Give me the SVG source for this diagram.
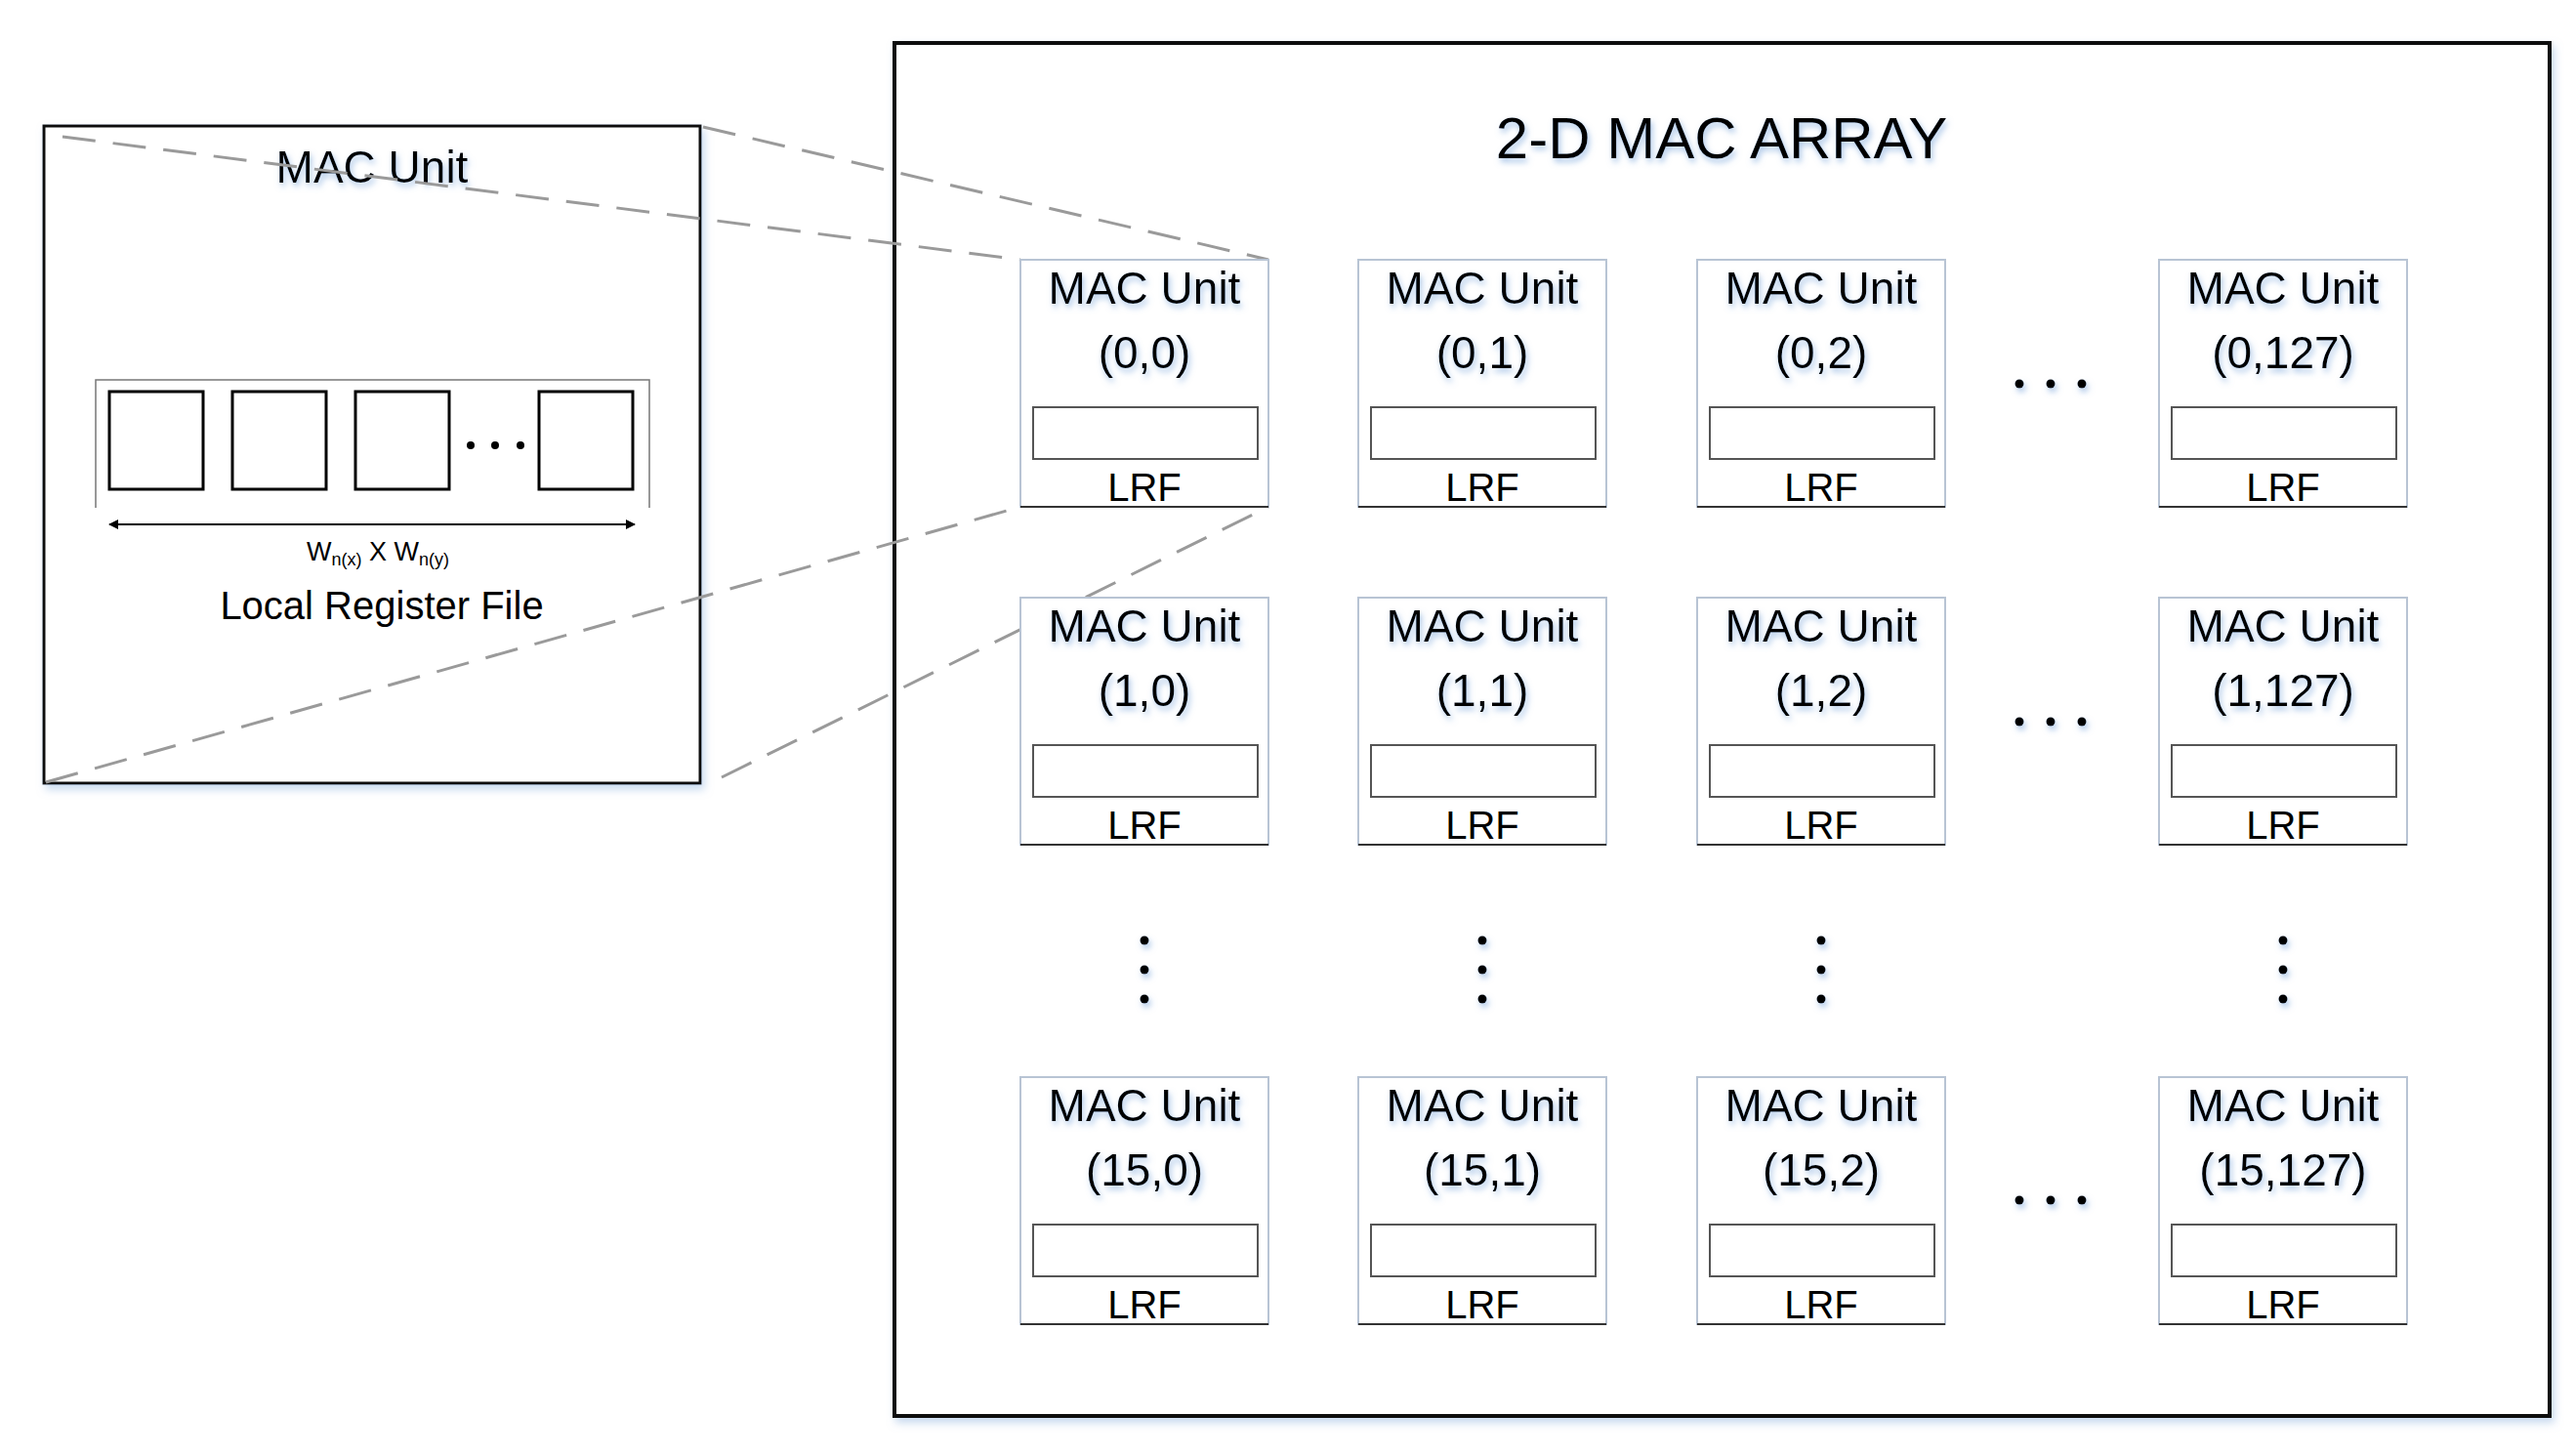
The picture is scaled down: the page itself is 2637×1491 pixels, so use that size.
<svg xmlns="http://www.w3.org/2000/svg" width="2637" height="1491" viewBox="0 0 2637 1491">
<style>
text{font-family:"Liberation Sans",Arial,sans-serif;fill:#000;text-anchor:middle}
.t{font-size:46px;filter:url(#glow)}
.l{font-size:40px}
.cell{fill:#fff;stroke:#b8c4d4;stroke-width:2}
.bot{stroke:#333;stroke-width:2}
.reg{fill:#fff;stroke:#555;stroke-width:2}
.dash{stroke:#9a9a9a;stroke-width:3;stroke-dasharray:34 18;fill:none}
.dot{fill:#000}
</style>
<defs>
<filter id="glow" x="-20%" y="-20%" width="140%" height="160%">
<feDropShadow dx="2" dy="4" stdDeviation="3" flood-color="#6f9fd8" flood-opacity="0.6"/>
</filter>
<filter id="bs" x="-5%" y="-5%" width="110%" height="110%">
<feDropShadow dx="3" dy="5" stdDeviation="4" flood-color="#8fb3e0" flood-opacity="0.5"/>
</filter>
<marker id="ah" markerWidth="10" markerHeight="10" refX="9" refY="5" orient="auto-start-reverse" markerUnits="userSpaceOnUse"><path d="M0,0 L10,5 L0,10 Z" fill="#000"/></marker>
<g id="c">
<rect class="cell" x="0" y="0" width="254" height="253"/>
<line class="bot" x1="0" y1="253" x2="254" y2="253"/>
<rect class="reg" x="13" y="151" width="230" height="53"/>
<text class="l" x="127" y="247">LRF</text>
</g>
</defs>
<rect width="2637" height="1491" fill="#fff"/>
<g id="array">
<rect x="916" y="44" width="1695" height="1406" fill="#fff" stroke="#111" stroke-width="4" filter="url(#bs)"/>
<text x="1763" y="162" style="font-size:60px" filter="url(#glow)">2-D MAC ARRAY</text>
</g>
<g id="detail">
<rect x="45" y="129" width="672" height="673" fill="#fff" stroke="#111" stroke-width="3" filter="url(#bs)"/>
<text class="t" x="381" y="187">MAC Unit</text>
<path d="M98,520 V389 H665 V520" fill="none" stroke="#777" stroke-width="1.5"/>
<rect x="112" y="401" width="96" height="100" fill="#fff" stroke="#000" stroke-width="3"/>
<rect x="238" y="401" width="96" height="100" fill="#fff" stroke="#000" stroke-width="3"/>
<rect x="364" y="401" width="96" height="100" fill="#fff" stroke="#000" stroke-width="3"/>
<rect x="552" y="401" width="96" height="100" fill="#fff" stroke="#000" stroke-width="3"/>
<circle class="dot" cx="482" cy="456" r="4"/><circle class="dot" cx="507" cy="456" r="4"/><circle class="dot" cx="533" cy="456" r="4"/>
<line x1="112" y1="537" x2="650" y2="537" stroke="#000" stroke-width="2" marker-start="url(#ah)" marker-end="url(#ah)"/>
<text x="387" y="574" style="font-size:27px">W<tspan style="font-size:18px" dy="5">n(x)</tspan><tspan dy="-5"> X W</tspan><tspan style="font-size:18px" dy="5">n(y)</tspan></text>
<text x="391" y="634" style="font-size:40px">Local Register File</text>
</g>
<g id="connectors">
<line class="dash" x1="64" y1="140" x2="1045" y2="266"/>
<line class="dash" x1="720" y1="130" x2="1299" y2="266"/>
<line class="dash" x1="47" y1="801" x2="1045" y2="519"/>
<line class="dash" x1="739" y1="796" x2="1299" y2="519"/>
</g>
<g id="u0_0" transform="translate(1045,266)"><use href="#c"/><text class="t" x="127" y="45">MAC Unit</text><text class="t" x="127" y="111">(0,0)</text></g>
<g id="u0_1" transform="translate(1391,266)"><use href="#c"/><text class="t" x="127" y="45">MAC Unit</text><text class="t" x="127" y="111">(0,1)</text></g>
<g id="u0_2" transform="translate(1738,266)"><use href="#c"/><text class="t" x="127" y="45">MAC Unit</text><text class="t" x="127" y="111">(0,2)</text></g>
<g id="u0_127" transform="translate(2211,266)"><use href="#c"/><text class="t" x="127" y="45">MAC Unit</text><text class="t" x="127" y="111">(0,127)</text></g>
<g id="u1_0" transform="translate(1045,612)"><use href="#c"/><text class="t" x="127" y="45">MAC Unit</text><text class="t" x="127" y="111">(1,0)</text></g>
<g id="u1_1" transform="translate(1391,612)"><use href="#c"/><text class="t" x="127" y="45">MAC Unit</text><text class="t" x="127" y="111">(1,1)</text></g>
<g id="u1_2" transform="translate(1738,612)"><use href="#c"/><text class="t" x="127" y="45">MAC Unit</text><text class="t" x="127" y="111">(1,2)</text></g>
<g id="u1_127" transform="translate(2211,612)"><use href="#c"/><text class="t" x="127" y="45">MAC Unit</text><text class="t" x="127" y="111">(1,127)</text></g>
<g id="u15_0" transform="translate(1045,1103)"><use href="#c"/><text class="t" x="127" y="45">MAC Unit</text><text class="t" x="127" y="111">(15,0)</text></g>
<g id="u15_1" transform="translate(1391,1103)"><use href="#c"/><text class="t" x="127" y="45">MAC Unit</text><text class="t" x="127" y="111">(15,1)</text></g>
<g id="u15_2" transform="translate(1738,1103)"><use href="#c"/><text class="t" x="127" y="45">MAC Unit</text><text class="t" x="127" y="111">(15,2)</text></g>
<g id="u15_127" transform="translate(2211,1103)"><use href="#c"/><text class="t" x="127" y="45">MAC Unit</text><text class="t" x="127" y="111">(15,127)</text></g>
<g id="ellipses" class="dot" filter="url(#glow)">
<circle cx="2068" cy="393" r="4.5"/><circle cx="2100" cy="393" r="4.5"/><circle cx="2132" cy="393" r="4.5"/>
<circle cx="2068" cy="739" r="4.5"/><circle cx="2100" cy="739" r="4.5"/><circle cx="2132" cy="739" r="4.5"/>
<circle cx="2068" cy="1229" r="4.5"/><circle cx="2100" cy="1229" r="4.5"/><circle cx="2132" cy="1229" r="4.5"/>
<circle cx="1172" cy="963" r="4.5"/><circle cx="1172" cy="993" r="4.5"/><circle cx="1172" cy="1023" r="4.5"/>
<circle cx="1518" cy="963" r="4.5"/><circle cx="1518" cy="993" r="4.5"/><circle cx="1518" cy="1023" r="4.5"/>
<circle cx="1865" cy="963" r="4.5"/><circle cx="1865" cy="993" r="4.5"/><circle cx="1865" cy="1023" r="4.5"/>
<circle cx="2338" cy="963" r="4.5"/><circle cx="2338" cy="993" r="4.5"/><circle cx="2338" cy="1023" r="4.5"/>
</g>
</svg>
